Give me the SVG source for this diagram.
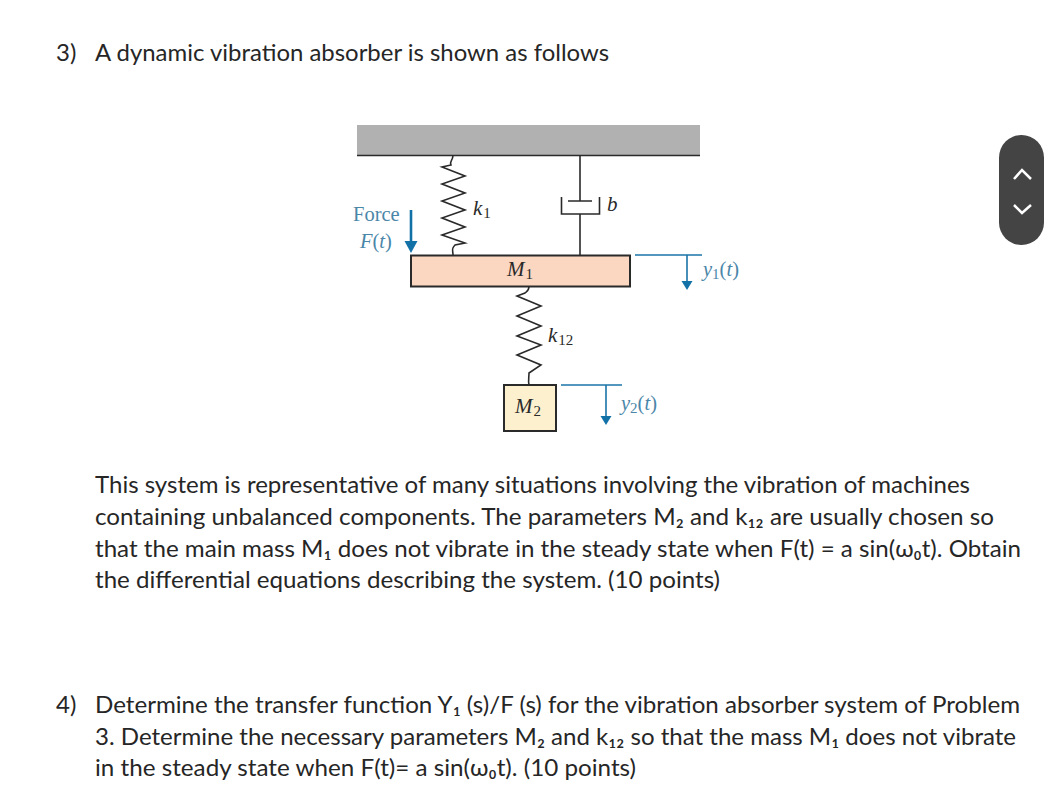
<svg xmlns="http://www.w3.org/2000/svg" width="1056" height="812" viewBox="0 0 1056 812">
<style>
.t{font-family:Lato,"Noto Sans",sans-serif;font-size:24px;fill:#262626}
.s{font-family:"Liberation Serif",serif;font-size:21px;fill:#2a2a2a}
.i{font-style:italic}
.b{font-family:"Liberation Serif",serif;font-size:20.500px;fill:#4a86a8}
.sub{font-size:15px}
.ln{fill:none;stroke:#2a2a2a;stroke-width:1.6}
.bl{fill:none;stroke:#1a74a8;stroke-width:1.6}
</style>
<defs>
<marker id="ah" markerWidth="12" markerHeight="10" refX="6" refY="1" orient="0" markerUnits="userSpaceOnUse"><path d="M0.500 0 L11.500 0 L6 9 Z" fill="#1272a8"/></marker>
<marker id="ahb" markerWidth="14" markerHeight="13" refX="7" refY="1" orient="0" markerUnits="userSpaceOnUse"><path d="M0.500 0 L13.500 0 L7 12 Z" fill="#1272a8"/></marker>
</defs>
<rect width="1056" height="812" fill="#fff"/>
<g id="ceiling"><rect x="357" y="125" width="343" height="30" fill="#b1b1b1"/><path d="M357 155.500H700" class="ln"/></g>
<g id="connectors">
<path id="spring-k1" class="ln" d="M453 155C453 161 449 161 451 165L442 167L465 176L442 184L465 193L442 201L465 210L442 218L465 227L442 235L465 243L455 245C451 249 453 250 453 255"/>
<path id="damper-rod-top" class="ln" d="M580 155V201M568 201H592"/>
<path id="damper-cup" class="ln" d="M561.500 197V214H599.500V197M580 214V255"/>
<path id="spring-k12" class="ln" d="M529 286C529 291 527 291 525 293L517 296L541 306L517 316L541 326L517 336L541 345L517 355L541 365L529 373C529 377 528 381 529 385"/>
<path id="force-arrow" d="M411 210V242" fill="none" stroke="#1272a8" stroke-width="2.600" marker-end="url(#ahb)"/>
<path id="y1-ref" class="bl" d="M635 255H702"/>
<path id="y1-arrow" class="bl" d="M687 255V282" marker-end="url(#ah)"/>
<path id="y2-ref" class="bl" d="M561 385H622"/>
<path id="y2-arrow" class="bl" d="M606 385V417" marker-end="url(#ah)"/>
</g>
<g id="mass-m1"><rect x="411" y="255.500" width="219" height="31" fill="#fbd6c0" stroke="#2a2a2a" stroke-width="2"/>
<text x="507" y="276" class="s i">M<tspan class="sub" dy="3" font-style="normal" dx="1">1</tspan></text></g>
<g id="mass-m2"><rect x="504" y="385" width="52" height="46" fill="#fdf0cf" stroke="#2a2a2a" stroke-width="2"/>
<text x="515" y="413" class="s i">M<tspan class="sub" dy="3" font-style="normal" dx="1">2</tspan></text></g>
<g id="labels">
<text x="353" y="221" class="b">Force</text>
<text x="360" y="248" class="b"><tspan class="i">F</tspan>(<tspan class="i">t</tspan>)</text>
<text x="473" y="215" class="s i">k<tspan class="sub" dy="3" font-style="normal" dx="1">1</tspan></text>
<text x="607" y="211" class="s i">b</text>
<text x="703" y="276" class="b"><tspan class="i">y</tspan><tspan class="sub" dy="3">1</tspan><tspan dy="-3">(</tspan><tspan class="i">t</tspan>)</text>
<text x="548" y="342" class="s i">k<tspan class="sub" dy="3" font-style="normal" dx="1">12</tspan></text>
<text x="621" y="410" class="b"><tspan class="i">y</tspan><tspan class="sub" dy="3">2</tspan><tspan dy="-3">(</tspan><tspan class="i">t</tspan>)</text>
</g>
<g id="pager"><rect x="999" y="135" width="45" height="110" rx="22.500" fill="#444"/>
<path d="M1014 179L1022 170L1031 179M1014 205L1022 213L1031 205" fill="none" stroke="#fff" stroke-width="2.500"/></g>
<g id="text">
<text x="56" y="61" class="t">3)</text>
<text x="95" y="61" class="t" textLength="514" lengthAdjust="spacingAndGlyphs">A dynamic vibration absorber is shown as follows</text>
<text x="95" y="493" class="t" textLength="875" lengthAdjust="spacingAndGlyphs">This system is representative of many situations involving the vibration of machines</text>
<text x="95" y="525" class="t" textLength="899" lengthAdjust="spacingAndGlyphs">containing unbalanced components. The parameters M₂ and k₁₂ are usually chosen so</text>
<text x="95" y="557" class="t" textLength="926" lengthAdjust="spacingAndGlyphs">that the main mass M₁ does not vibrate in the steady state when F(t) = a sin(ω₀t). Obtain</text>
<text x="95" y="588" class="t" textLength="625" lengthAdjust="spacingAndGlyphs">the differential equations describing the system. (10 points)</text>
<text x="56" y="713" class="t">4)</text>
<text x="95" y="713" class="t" textLength="925" lengthAdjust="spacingAndGlyphs">Determine the transfer function Y₁ (s)/F (s) for the vibration absorber system of Problem</text>
<text x="95" y="745" class="t" textLength="921" lengthAdjust="spacingAndGlyphs">3. Determine the necessary parameters M₂ and k₁₂ so that the mass M₁ does not vibrate</text>
<text x="95" y="776" class="t" textLength="541" lengthAdjust="spacingAndGlyphs">in the steady state when F(t)= a sin(ω₀t). (10 points)</text>
</g>
</svg>
